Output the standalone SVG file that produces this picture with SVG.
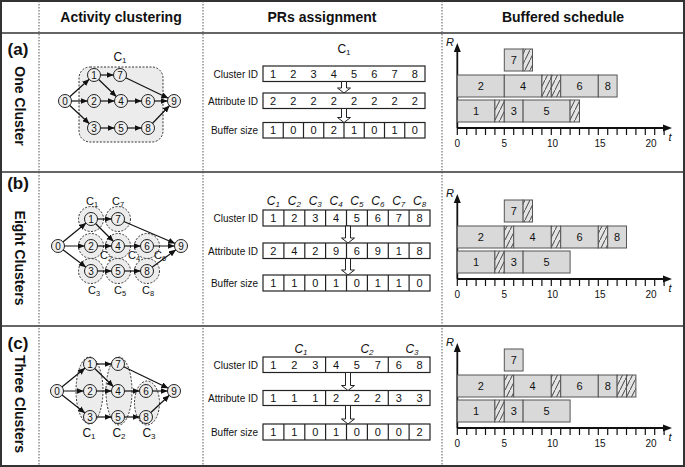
<svg xmlns="http://www.w3.org/2000/svg" width="685" height="467" viewBox="0 0 685 467">
<style>
text{font-family:"Liberation Sans",Arial,sans-serif;fill:#111}
.hdr{font-weight:bold;font-size:14px;text-anchor:middle}
.rl{font-weight:bold;font-size:17px;text-anchor:middle}
.vl{font-weight:bold;font-size:14px;text-anchor:middle}
.nd circle{fill:#eeeeee;stroke:#222;stroke-width:1}
.nd text{font-size:10px;text-anchor:middle}
.e{stroke:#111;stroke-width:1.2;fill:none;marker-end:url(#ah)}
.cl{fill:#ececec;stroke:#333;stroke-dasharray:2 1.5;stroke-width:1}
.lbl{font-size:12px;text-anchor:middle}
.lbs{font-size:11px;text-anchor:middle}
.pl{font-size:10px;text-anchor:end}
.box{fill:#fff;stroke:#222;stroke-width:1.2}
.dv{stroke:#222;stroke-width:1.2}
.num{font-size:11px;text-anchor:middle}
.ci{font-style:italic;font-size:12px;text-anchor:middle}
.arr{fill:#fff;stroke:#222;stroke-width:1}
.bar{fill:#d9d9d9;stroke:#555;stroke-width:1}
.hb{fill:url(#hatch);stroke:#555;stroke-width:1}
.bt{font-size:11px;text-anchor:middle}
.ax{stroke:#111;stroke-width:1.8;fill:none}
.tk{stroke:#111;stroke-width:1.2;fill:none}
.tl{font-size:10px;text-anchor:middle}
.it{font-style:italic;font-size:11px;text-anchor:middle}
.frame{stroke:#333;stroke-width:2;fill:none}
.sep{stroke:#333;stroke-width:1.5}
.vd{stroke:#555;stroke-width:1;stroke-dasharray:1.5 1.5}
</style>
<defs>
<marker id="ah" markerUnits="userSpaceOnUse" markerWidth="7" markerHeight="6" refX="13.3" refY="3" orient="auto"><path d="M0,0 L7,3 L0,6 z" fill="#111"/></marker>
<pattern id="hatch" patternUnits="userSpaceOnUse" width="5" height="10"><rect width="5" height="10" fill="#e4e4e4"/><path d="M-1,12 L6,-2" stroke="#444" stroke-width="1"/></pattern>
<g id="axes">
<path class="ax" d="M457.3,128 V50 M457.3,128 H664"/>
<path d="M457.3,43 L453.8,52 L460.8,52 Z M672,128 L663,124.5 L663,131.5 Z" fill="#111"/>
<path class="tk" d="M457.3,128v7m9.4,-7v7m9.4,-7v7m9.4,-7v7m9.4,-7v7m9.4,-7v7m9.4,-7v7m9.4,-7v7m9.4,-7v7m9.4,-7v7m9.4,-7v7m9.4,-7v7m9.4,-7v7m9.4,-7v7m9.4,-7v7m9.4,-7v7m9.4,-7v7m9.4,-7v7m9.4,-7v7m9.4,-7v7m9.4,-7v7m9.4,-7v7m9.4,-7v7"/>
<text class="it" x="450" y="46">R</text>
<text class="it" x="670" y="141">t</text>
<text class="tl" x="457.3" y="147">0</text>
<text class="tl" x="504.3" y="147">5</text>
<text class="tl" x="552.5" y="147">10</text>
<text class="tl" x="600" y="147">15</text>
<text class="tl" x="651" y="147">20</text>
</g>
</defs>

<g id="grid">
<rect class="frame" x="1" y="1" width="683" height="465"/>
<line class="sep" x1="1" y1="33" x2="684" y2="33"/>
<line class="sep" x1="1" y1="172" x2="684" y2="172"/>
<line class="sep" x1="1" y1="326" x2="684" y2="326"/>
<line class="vd" x1="39" y1="1" x2="39" y2="466"/>
<line class="vd" x1="203" y1="1" x2="203" y2="466"/>
<line class="vd" x1="442" y1="1" x2="442" y2="466"/>
</g>

<g id="headers">
<text class="hdr" x="121" y="22">Activity clustering</text>
<text class="hdr" x="322" y="22">PRs assignment</text>
<text class="hdr" x="563" y="22">Buffered schedule</text>
</g>

<g id="row-labels">
<text class="rl" x="18" y="55">(a)</text>
<text class="vl" transform="translate(15,106) rotate(90)">One Cluster</text>
<text class="rl" x="18" y="189">(b)</text>
<text class="vl" transform="translate(15,258) rotate(90)">Eight Clusters</text>
<text class="rl" x="18" y="349">(c)</text>
<text class="vl" transform="translate(15,404) rotate(90)">Three Clusters</text>
</g>

<!-- ===== Graph (a) ===== -->
<g id="a-cluster-c1"><rect class="cl" x="79" y="67" width="84" height="75" rx="11"/><text class="lbl" x="120" y="61">C<tspan font-size="8" dy="2">1</tspan></text></g>
<g id="a-edges">
<path class="e" d="M65,101 L94,75"/>
<path class="e" d="M65,101 L94,101"/>
<path class="e" d="M65,101 L94,128"/>
<path class="e" d="M94,75 L120,75"/>
<path class="e" d="M94,75 L121,101"/>
<path class="e" d="M94,101 L121,101"/>
<path class="e" d="M94,128 L121,128"/>
<path class="e" d="M121,101 L148,101"/>
<path class="e" d="M121,128 L148,128"/>
<path class="e" d="M148,101 L174,101"/>
<path class="e" d="M120,75 L174,101"/>
<path class="e" d="M148,128 L174,101"/>
</g>
<g id="a-n0" class="nd"><circle cx="65" cy="101" r="6.5"/><text x="65" y="104.5">0</text></g>
<g id="a-n1" class="nd"><circle cx="94" cy="75" r="6.5"/><text x="94" y="78.5">1</text></g>
<g id="a-n2" class="nd"><circle cx="94" cy="101" r="6.5"/><text x="94" y="104.5">2</text></g>
<g id="a-n3" class="nd"><circle cx="94" cy="128" r="6.5"/><text x="94" y="131.5">3</text></g>
<g id="a-n4" class="nd"><circle cx="121" cy="101" r="6.5"/><text x="121" y="104.5">4</text></g>
<g id="a-n5" class="nd"><circle cx="121" cy="128" r="6.5"/><text x="121" y="131.5">5</text></g>
<g id="a-n6" class="nd"><circle cx="148" cy="101" r="6.5"/><text x="148" y="104.5">6</text></g>
<g id="a-n7" class="nd"><circle cx="120" cy="75" r="6.5"/><text x="120" y="78.5">7</text></g>
<g id="a-n8" class="nd"><circle cx="148" cy="128" r="6.5"/><text x="148" y="131.5">8</text></g>
<g id="a-n9" class="nd"><circle cx="174" cy="101" r="6.5"/><text x="174" y="104.5">9</text></g>

<!-- ===== Graph (b) ===== -->
<g id="b-c1"><circle class="cl" cx="91" cy="219" r="12.5"/><text class="lbs" x="92" y="205">C<tspan font-size="7.5" dy="1.5">1</tspan></text></g>
<g id="b-c7"><circle class="cl" cx="118" cy="219" r="12.5"/><text class="lbs" x="118" y="205">C<tspan font-size="7.5" dy="1.5">7</tspan></text></g>
<g id="b-c2"><circle class="cl" cx="91" cy="246" r="12.5"/><text class="lbs" x="106" y="259">C<tspan font-size="7.5" dy="1.5">2</tspan></text></g>
<g id="b-c4"><circle class="cl" cx="118" cy="246" r="12.5"/><text class="lbs" x="134" y="259">C<tspan font-size="7.5" dy="1.5">4</tspan></text></g>
<g id="b-c6"><circle class="cl" cx="147" cy="246" r="12.5"/><text class="lbs" x="160" y="259">C<tspan font-size="7.5" dy="1.5">6</tspan></text></g>
<g id="b-c3"><circle class="cl" cx="91" cy="271" r="12.5"/><text class="lbs" x="94" y="294">C<tspan font-size="7.5" dy="1.5">3</tspan></text></g>
<g id="b-c5"><circle class="cl" cx="118" cy="271" r="12.5"/><text class="lbs" x="120" y="294">C<tspan font-size="7.5" dy="1.5">5</tspan></text></g>
<g id="b-c8"><circle class="cl" cx="147" cy="271" r="12.5"/><text class="lbs" x="148" y="294">C<tspan font-size="7.5" dy="1.5">8</tspan></text></g>
<g id="b-edges">
<path class="e" d="M58,246 L91,219"/>
<path class="e" d="M58,246 L91,246"/>
<path class="e" d="M58,246 L91,271"/>
<path class="e" d="M91,219 L118,219"/>
<path class="e" d="M91,219 L118,246"/>
<path class="e" d="M91,246 L118,246"/>
<path class="e" d="M91,271 L118,271"/>
<path class="e" d="M118,246 L147,246"/>
<path class="e" d="M118,271 L147,271"/>
<path class="e" d="M147,246 L181,246"/>
<path class="e" d="M118,219 L181,246"/>
<path class="e" d="M147,271 L181,246"/>
</g>
<g id="b-n0" class="nd"><circle cx="58" cy="246" r="6.5"/><text x="58" y="249.5">0</text></g>
<g id="b-n1" class="nd"><circle cx="91" cy="219" r="6.5"/><text x="91" y="222.5">1</text></g>
<g id="b-n2" class="nd"><circle cx="91" cy="246" r="6.5"/><text x="91" y="249.5">2</text></g>
<g id="b-n3" class="nd"><circle cx="91" cy="271" r="6.5"/><text x="91" y="274.5">3</text></g>
<g id="b-n4" class="nd"><circle cx="118" cy="246" r="6.5"/><text x="118" y="249.5">4</text></g>
<g id="b-n5" class="nd"><circle cx="118" cy="271" r="6.5"/><text x="118" y="274.5">5</text></g>
<g id="b-n6" class="nd"><circle cx="147" cy="246" r="6.5"/><text x="147" y="249.5">6</text></g>
<g id="b-n7" class="nd"><circle cx="118" cy="219" r="6.5"/><text x="118" y="222.5">7</text></g>
<g id="b-n8" class="nd"><circle cx="147" cy="271" r="6.5"/><text x="147" y="274.5">8</text></g>
<g id="b-n9" class="nd"><circle cx="181" cy="246" r="6.5"/><text x="181" y="249.5">9</text></g>

<!-- ===== Graph (c) ===== -->
<g id="c-c1"><ellipse class="cl" cx="89.5" cy="390.5" rx="13.5" ry="33.5"/><text class="lbl" x="89" y="437">C<tspan font-size="8" dy="2">1</tspan></text></g>
<g id="c-c2"><ellipse class="cl" cx="119" cy="391" rx="13" ry="34"/><text class="lbl" x="119" y="437">C<tspan font-size="8" dy="2">2</tspan></text></g>
<g id="c-c3"><ellipse class="cl" cx="147" cy="403" rx="12.5" ry="22"/><text class="lbl" x="149" y="437">C<tspan font-size="8" dy="2">3</tspan></text></g>
<g id="c-edges">
<path class="e" d="M57,391 L90,364"/>
<path class="e" d="M57,391 L90,391"/>
<path class="e" d="M57,391 L90,417"/>
<path class="e" d="M90,364 L118,364"/>
<path class="e" d="M90,364 L118,391"/>
<path class="e" d="M90,391 L118,391"/>
<path class="e" d="M90,417 L118,417"/>
<path class="e" d="M118,391 L146,391"/>
<path class="e" d="M118,417 L146,417"/>
<path class="e" d="M146,391 L174,391"/>
<path class="e" d="M118,364 L174,391"/>
<path class="e" d="M146,417 L174,391"/>
</g>
<g id="c-n0" class="nd"><circle cx="57" cy="391" r="6.5"/><text x="57" y="394.5">0</text></g>
<g id="c-n1" class="nd"><circle cx="90" cy="364" r="6.5"/><text x="90" y="367.5">1</text></g>
<g id="c-n2" class="nd"><circle cx="90" cy="391" r="6.5"/><text x="90" y="394.5">2</text></g>
<g id="c-n3" class="nd"><circle cx="90" cy="417" r="6.5"/><text x="90" y="420.5">3</text></g>
<g id="c-n4" class="nd"><circle cx="118" cy="391" r="6.5"/><text x="118" y="394.5">4</text></g>
<g id="c-n5" class="nd"><circle cx="118" cy="417" r="6.5"/><text x="118" y="420.5">5</text></g>
<g id="c-n6" class="nd"><circle cx="146" cy="391" r="6.5"/><text x="146" y="394.5">6</text></g>
<g id="c-n7" class="nd"><circle cx="118" cy="364" r="6.5"/><text x="118" y="367.5">7</text></g>
<g id="c-n8" class="nd"><circle cx="146" cy="417" r="6.5"/><text x="146" y="420.5">8</text></g>
<g id="c-n9" class="nd"><circle cx="174" cy="391" r="6.5"/><text x="174" y="394.5">9</text></g>

<!-- ===== PRs (a) ===== -->
<g id="pr-a">
<text class="lbl" x="344" y="53">C<tspan font-size="8" dy="2">1</tspan></text>
<text class="pl" x="258" y="77.5">Cluster ID</text>
<text class="pl" x="258" y="104.5">Attribute ID</text>
<text class="pl" x="258" y="134">Buffer size</text>
<rect class="box" x="263" y="66" width="162" height="15.5"/>
<rect class="box" x="263" y="93" width="162" height="15.5"/>
<rect class="box" x="263" y="122.5" width="162" height="15.5"/>
<path class="dv" d="M283.25,122.5v15.5M303.5,122.5v15.5M323.75,122.5v15.5M344,122.5v15.5M364.25,122.5v15.5M384.5,122.5v15.5M404.75,122.5v15.5"/>
<g class="num">
<text x="273.1" y="77.5">1</text><text x="293.4" y="77.5">2</text><text x="313.6" y="77.5">3</text><text x="333.9" y="77.5">4</text><text x="354.1" y="77.5">5</text><text x="374.4" y="77.5">6</text><text x="394.6" y="77.5">7</text><text x="414.9" y="77.5">8</text>
<text x="273.1" y="104.5">2</text><text x="293.4" y="104.5">2</text><text x="313.6" y="104.5">2</text><text x="333.9" y="104.5">2</text><text x="354.1" y="104.5">2</text><text x="374.4" y="104.5">2</text><text x="394.6" y="104.5">2</text><text x="414.9" y="104.5">2</text>
<text x="273.1" y="134">1</text><text x="293.4" y="134">0</text><text x="313.6" y="134">0</text><text x="333.9" y="134">2</text><text x="354.1" y="134">1</text><text x="374.4" y="134">0</text><text x="394.6" y="134">1</text><text x="414.9" y="134">0</text>
</g>
<path class="arr" d="M341.5,81.5 H346.5 V88 H350.5 L344,93 L337.5,88 H341.5 Z"/>
<path class="arr" d="M341.5,108.5 H346.5 V117.5 H350.5 L344,122.5 L337.5,117.5 H341.5 Z"/>
</g>

<!-- ===== PRs (b) ===== -->
<g id="pr-b">
<g class="ci">
<text x="273.4" y="205">C<tspan font-size="8" dy="2">1</tspan></text>
<text x="294.3" y="205">C<tspan font-size="8" dy="2">2</tspan></text>
<text x="315.2" y="205">C<tspan font-size="8" dy="2">3</tspan></text>
<text x="336.1" y="205">C<tspan font-size="8" dy="2">4</tspan></text>
<text x="356.9" y="205">C<tspan font-size="8" dy="2">5</tspan></text>
<text x="377.8" y="205">C<tspan font-size="8" dy="2">6</tspan></text>
<text x="398.7" y="205">C<tspan font-size="8" dy="2">7</tspan></text>
<text x="419.6" y="205">C<tspan font-size="8" dy="2">8</tspan></text>
</g>
<text class="pl" x="258" y="222">Cluster ID</text>
<text class="pl" x="258" y="254.5">Attribute ID</text>
<text class="pl" x="258" y="287">Buffer size</text>
<rect class="box" x="263" y="210" width="167" height="16"/>
<rect class="box" x="263" y="243" width="167" height="15.5"/>
<rect class="box" x="263" y="275" width="167" height="16"/>
<path class="dv" d="M283.9,210v16M304.8,210v16M325.6,210v16M346.5,210v16M367.4,210v16M388.3,210v16M409.1,210v16M283.9,243v15.5M304.8,243v15.5M325.6,243v15.5M346.5,243v15.5M367.4,243v15.5M388.3,243v15.5M409.1,243v15.5M283.9,275v16M304.8,275v16M325.6,275v16M346.5,275v16M367.4,275v16M388.3,275v16M409.1,275v16"/>
<g class="num">
<text x="273.4" y="222">1</text><text x="294.3" y="222">2</text><text x="315.2" y="222">3</text><text x="336.1" y="222">4</text><text x="356.9" y="222">5</text><text x="377.8" y="222">6</text><text x="398.7" y="222">7</text><text x="419.6" y="222">8</text>
<text x="273.4" y="254.5">2</text><text x="294.3" y="254.5">4</text><text x="315.2" y="254.5">2</text><text x="336.1" y="254.5">9</text><text x="356.9" y="254.5">6</text><text x="377.8" y="254.5">9</text><text x="398.7" y="254.5">1</text><text x="419.6" y="254.5">8</text>
<text x="273.4" y="287">1</text><text x="294.3" y="287">1</text><text x="315.2" y="287">0</text><text x="336.1" y="287">1</text><text x="356.9" y="287">0</text><text x="377.8" y="287">1</text><text x="398.7" y="287">1</text><text x="419.6" y="287">0</text>
</g>
<path class="arr" d="M345.5,226 H350.5 V238 H354.5 L348,243 L341.5,238 H345.5 Z"/>
<path class="arr" d="M345.5,258.5 H350.5 V270 H354.5 L348,275 L341.5,270 H345.5 Z"/>
</g>

<!-- ===== PRs (c) ===== -->
<g id="pr-c">
<g class="ci">
<text x="301" y="353">C<tspan font-size="8" dy="2">1</tspan></text>
<text x="367" y="353">C<tspan font-size="8" dy="2">2</tspan></text>
<text x="412" y="353">C<tspan font-size="8" dy="2">3</tspan></text>
</g>
<text class="pl" x="258" y="368.5">Cluster ID</text>
<text class="pl" x="258" y="401.5">Attribute ID</text>
<text class="pl" x="258" y="436">Buffer size</text>
<rect class="box" x="263" y="357" width="167" height="15.5"/>
<rect class="box" x="263" y="390.5" width="167" height="15"/>
<rect class="box" x="263" y="424" width="167" height="16"/>
<path class="dv" d="M325.6,357v15.5M388.3,357v15.5M325.6,390.5v15M388.3,390.5v15M283.9,424v16M304.8,424v16M325.6,424v16M346.5,424v16M367.4,424v16M388.3,424v16M409.1,424v16"/>
<g class="num">
<text x="273.4" y="368.5">1</text><text x="294.3" y="368.5">2</text><text x="315.2" y="368.5">3</text><text x="336.1" y="368.5">4</text><text x="356.9" y="368.5">5</text><text x="377.8" y="368.5">7</text><text x="398.7" y="368.5">6</text><text x="419.6" y="368.5">8</text>
<text x="273.4" y="401.5">1</text><text x="294.3" y="401.5">1</text><text x="315.2" y="401.5">1</text><text x="336.1" y="401.5">2</text><text x="356.9" y="401.5">2</text><text x="377.8" y="401.5">2</text><text x="398.7" y="401.5">3</text><text x="419.6" y="401.5">3</text>
<text x="273.4" y="436">1</text><text x="294.3" y="436">1</text><text x="315.2" y="436">0</text><text x="336.1" y="436">1</text><text x="356.9" y="436">0</text><text x="377.8" y="436">0</text><text x="398.7" y="436">0</text><text x="419.6" y="436">2</text>
</g>
<path class="arr" d="M345.5,372.5 H350.5 V385.5 H354.5 L348,390.5 L341.5,385.5 H345.5 Z"/>
<path class="arr" d="M345.5,405.5 H350.5 V419 H354.5 L348,424 L341.5,419 H345.5 Z"/>
</g>

<!-- ===== Schedule (a) ===== -->
<g id="sched-a">
<use href="#axes"/>
<rect class="bar" x="504.3" y="49" width="18.8" height="22"/><text class="bt" x="513.7" y="64">7</text>
<rect class="hb" x="523.1" y="49" width="9.4" height="22"/>
<rect class="bar" x="457.3" y="75" width="47" height="22"/><text class="bt" x="480.8" y="90">2</text>
<rect class="bar" x="504.3" y="75" width="37.6" height="22"/><text class="bt" x="523.1" y="90">4</text>
<rect class="hb" x="541.9" y="75" width="9.4" height="22"/>
<rect class="hb" x="551.3" y="75" width="9.4" height="22"/>
<rect class="bar" x="560.7" y="75" width="37.6" height="22"/><text class="bt" x="579.5" y="90">6</text>
<rect class="bar" x="598.3" y="75" width="18.8" height="22"/><text class="bt" x="607.7" y="90">8</text>
<rect class="bar" x="457.3" y="100" width="37.6" height="22"/><text class="bt" x="476.1" y="115">1</text>
<rect class="hb" x="494.9" y="100" width="9.4" height="22"/>
<rect class="bar" x="504.3" y="100" width="18.8" height="22"/><text class="bt" x="513.7" y="115">3</text>
<rect class="bar" x="523.1" y="100" width="47" height="22"/><text class="bt" x="546.6" y="115">5</text>
<rect class="hb" x="570.1" y="100" width="9.4" height="22"/>
</g>

<!-- ===== Schedule (b) ===== -->
<g id="sched-b">
<use href="#axes" y="151"/>
<rect class="bar" x="504.3" y="200" width="18.8" height="22"/><text class="bt" x="513.7" y="215">7</text>
<rect class="hb" x="523.1" y="200" width="9.4" height="22"/>
<rect class="bar" x="457.3" y="226" width="47" height="22"/><text class="bt" x="480.8" y="241">2</text>
<rect class="hb" x="504.3" y="226" width="9.4" height="22"/>
<rect class="bar" x="513.7" y="226" width="37.6" height="22"/><text class="bt" x="532.5" y="241">4</text>
<rect class="hb" x="551.3" y="226" width="9.4" height="22"/>
<rect class="bar" x="560.7" y="226" width="37.6" height="22"/><text class="bt" x="579.5" y="241">6</text>
<rect class="hb" x="598.3" y="226" width="9.4" height="22"/>
<rect class="bar" x="607.7" y="226" width="18.8" height="22"/><text class="bt" x="617.1" y="241">8</text>
<rect class="bar" x="457.3" y="251" width="37.6" height="22"/><text class="bt" x="476.1" y="266">1</text>
<rect class="hb" x="494.9" y="251" width="9.4" height="22"/>
<rect class="bar" x="504.3" y="251" width="18.8" height="22"/><text class="bt" x="513.7" y="266">3</text>
<rect class="bar" x="523.1" y="251" width="47" height="22"/><text class="bt" x="546.6" y="266">5</text>
</g>

<!-- ===== Schedule (c) ===== -->
<g id="sched-c">
<use href="#axes" y="300"/>
<rect class="bar" x="504.3" y="349" width="18.8" height="22"/><text class="bt" x="513.7" y="364">7</text>
<rect class="bar" x="457.3" y="375" width="47" height="22"/><text class="bt" x="480.8" y="390">2</text>
<rect class="hb" x="504.3" y="375" width="9.4" height="22"/>
<rect class="bar" x="513.7" y="375" width="37.6" height="22"/><text class="bt" x="532.5" y="390">4</text>
<rect class="hb" x="551.3" y="375" width="9.4" height="22"/>
<rect class="bar" x="560.7" y="375" width="37.6" height="22"/><text class="bt" x="579.5" y="390">6</text>
<rect class="bar" x="598.3" y="375" width="18.8" height="22"/><text class="bt" x="607.7" y="390">8</text>
<rect class="hb" x="617.1" y="375" width="9.4" height="22"/>
<rect class="hb" x="626.5" y="375" width="9.4" height="22"/>
<rect class="bar" x="457.3" y="400" width="37.6" height="22"/><text class="bt" x="476.1" y="415">1</text>
<rect class="hb" x="494.9" y="400" width="9.4" height="22"/>
<rect class="bar" x="504.3" y="400" width="18.8" height="22"/><text class="bt" x="513.7" y="415">3</text>
<rect class="bar" x="523.1" y="400" width="47" height="22"/><text class="bt" x="546.6" y="415">5</text>
</g>
</svg>
